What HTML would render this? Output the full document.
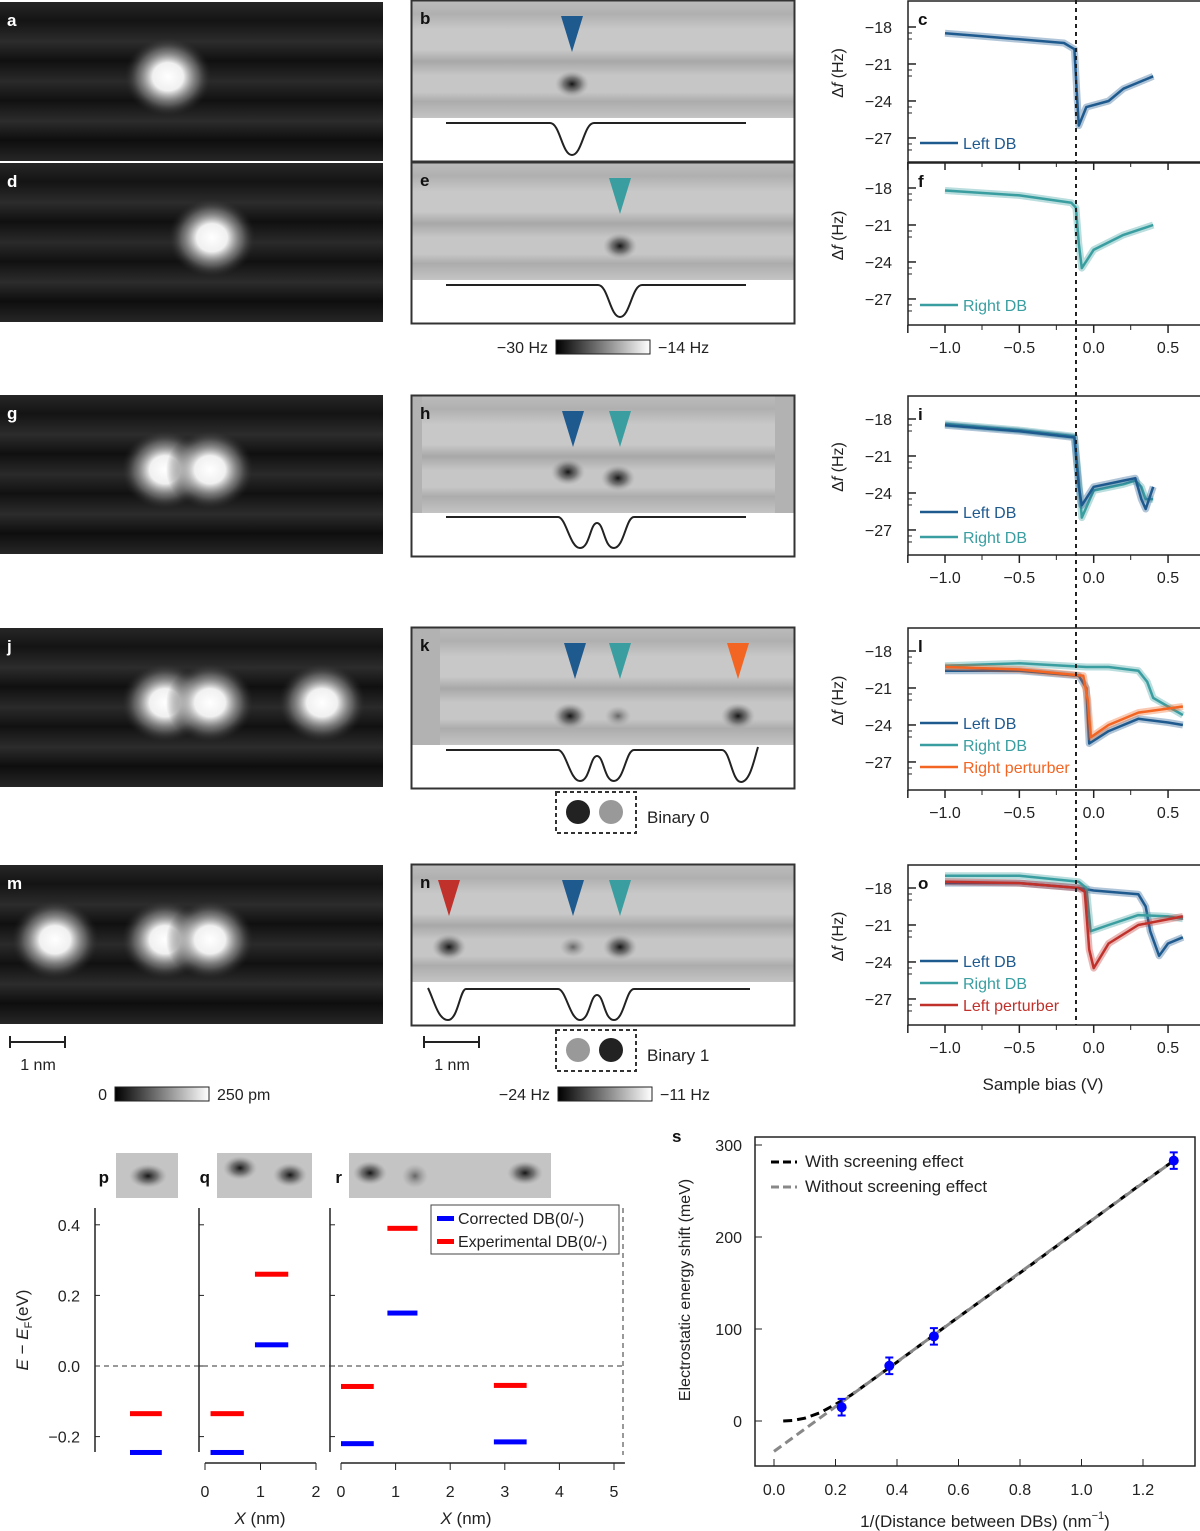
<!DOCTYPE html>
<html><head><meta charset="utf-8"><style>
body{margin:0;background:#fff}
svg{display:block;font-family:"Liberation Sans",sans-serif}
text{fill:#222}
</style></head><body>
<svg id="fig" width="1200" height="1531" viewBox="0 0 1200 1531">
<defs>
<radialGradient id="blob"><stop offset="0" stop-color="#fff"/><stop offset="0.35" stop-color="#f0f0f0"/><stop offset="0.7" stop-color="#888" stop-opacity="0.6"/><stop offset="1" stop-color="#222" stop-opacity="0"/></radialGradient>
<radialGradient id="spot"><stop offset="0" stop-color="#151515"/><stop offset="0.5" stop-color="#555" stop-opacity="0.7"/><stop offset="1" stop-color="#999" stop-opacity="0"/></radialGradient>
<radialGradient id="spotf"><stop offset="0" stop-color="#666"/><stop offset="1" stop-color="#999" stop-opacity="0"/></radialGradient>
<linearGradient id="stripeDark" x1="0" y1="0" x2="0" y2="1">
<stop offset="0" stop-color="#262626"/><stop offset="0.12" stop-color="#141414"/><stop offset="0.25" stop-color="#2c2c2c"/><stop offset="0.37" stop-color="#101010"/><stop offset="0.5" stop-color="#2a2a2a"/><stop offset="0.62" stop-color="#111"/><stop offset="0.75" stop-color="#2c2c2c"/><stop offset="0.87" stop-color="#0e0e0e"/><stop offset="1" stop-color="#262626"/></linearGradient>
<linearGradient id="stripeGray" x1="0" y1="0" x2="0" y2="1">
<stop offset="0" stop-color="#bcbcbc"/><stop offset="0.12" stop-color="#b0b0b0"/><stop offset="0.25" stop-color="#c8c8c8"/><stop offset="0.42" stop-color="#c8c8c8"/><stop offset="0.52" stop-color="#a8a8a8"/><stop offset="0.64" stop-color="#c6c6c6"/><stop offset="0.78" stop-color="#c6c6c6"/><stop offset="0.86" stop-color="#acacac"/><stop offset="1" stop-color="#c4c4c4"/></linearGradient>
<linearGradient id="cbar" x1="0" x2="1"><stop offset="0" stop-color="#000"/><stop offset="1" stop-color="#fff"/></linearGradient>
</defs>
<g id="root"></g>
</svg>
<script>
// ---------- spectra data (bias V, Δf Hz) ----------
const cLeftX=[-1,-0.8,-0.5,-0.2,-0.13,-0.11,-0.1,-0.05,0.1,0.2,0.3,0.4];
const cLeftY=[-18.5,-18.7,-19,-19.3,-19.8,-24,-26,-24.5,-24,-23,-22.5,-22];
const fRightX=[-1,-0.5,-0.15,-0.12,-0.1,-0.08,0,0.2,0.4];
const fRightY=[-18.2,-18.6,-19.2,-19.6,-22.5,-24.5,-23,-21.8,-21];
const iLeftX=[-1,-0.5,-0.13,-0.1,-0.08,0,0.2,0.28,0.32,0.35,0.4];
const iLeftY=[-18.5,-19,-19.5,-23.5,-25,-23.5,-23,-22.8,-24.5,-25.3,-23.5];
const iRightX=[-1,-0.5,-0.13,-0.1,-0.08,0,0.2,0.28,0.32,0.35,0.4];
const iRightY=[-18.4,-18.9,-19.4,-23,-26,-23.8,-23.3,-23,-23.5,-24.5,-24.5];
const lLeftX=[-1,-0.5,-0.1,-0.05,-0.03,0.1,0.3,0.5,0.6];
const lLeftY=[-19.6,-19.6,-20,-21,-25.5,-24.5,-23.5,-23.8,-24];
const lRightX=[-1,-0.5,-0.05,0.1,0.3,0.36,0.4,0.5,0.6];
const lRightY=[-19.2,-19,-19.3,-19.3,-19.6,-20.5,-21.8,-22.5,-23.2];
const lPertX=[-1,-0.5,-0.07,-0.04,-0.02,0.1,0.3,0.6];
const lPertY=[-19.3,-19.5,-20,-22,-25,-24,-23,-22.5];
const oLeftX=[-1,-0.5,-0.1,0,0.3,0.35,0.38,0.44,0.5,0.6];
const oLeftY=[-17.6,-17.6,-18,-18.2,-18.5,-19.5,-21.5,-23.5,-22.5,-22];
const oRightX=[-1,-0.5,-0.1,-0.05,-0.02,0.1,0.3,0.5,0.6];
const oRightY=[-17,-17,-17.5,-18,-21.5,-21,-20.2,-20.3,-20.5];
const oPertX=[-1,-0.5,-0.1,-0.06,-0.03,0,0.1,0.3,0.6];
const oPertY=[-17.5,-17.6,-18,-18.3,-23,-24.5,-22.5,-21,-20.3];
const biasTicks=[-1.0,-0.5,0.0,0.5];
const dfTicks=[-18,-21,-24,-27];
// ---------- energy level data ----------
const pLevels=[{x0:0,x1:0.6,e:-0.135,c:'red'},{x0:0,x1:0.6,e:-0.245,c:'blue'}];
const qLevels=[{x0:0.1,x1:0.7,e:-0.135,c:'red'},{x0:0.1,x1:0.7,e:-0.245,c:'blue'},{x0:0.9,x1:1.5,e:0.26,c:'red'},{x0:0.9,x1:1.5,e:0.06,c:'blue'}];
const rLevels=[{x0:0,x1:0.6,e:-0.058,c:'red'},{x0:0,x1:0.6,e:-0.22,c:'blue'},{x0:0.85,x1:1.4,e:0.39,c:'red'},{x0:0.85,x1:1.4,e:0.15,c:'blue'},{x0:2.8,x1:3.4,e:-0.055,c:'red'},{x0:2.8,x1:3.4,e:-0.215,c:'blue'}];
const eTicks=[0.4,0.2,0.0,-0.2];
// ---------- panel s data ----------
const sX=[0.22,0.375,0.52,1.3];
const sY=[15,60,92,283];
const sErr=[9,9,9,9];
const withX=[0.03,0.06,0.1,0.15,0.2,0.25,0.3,0.4,0.6,0.8,1.0,1.2,1.3];
const withY=[0,0.5,3,9,18,28,40,64,113,161,210,259,283];
const withoutX=[0,1.3];
const withoutY=[-33,283];
const sXTicks=[0.0,0.2,0.4,0.6,0.8,1.0,1.2];
const sYTicks=[0,100,200,300];

const NS='http://www.w3.org/2000/svg';
const root=document.getElementById('root');
function el(tag,attrs,parent,txt){const e=document.createElementNS(NS,tag);for(const k in attrs)e.setAttribute(k,attrs[k]);if(txt!==undefined)e.textContent=txt;(parent||root).appendChild(e);return e;}
function T(x,y,s,opt,parent){opt=opt||{};const t=el('text',{x:x,y:y,'font-size':opt.fs||16,'text-anchor':opt.a||'start','font-weight':opt.fw||'normal'},parent,s);if(opt.fill)t.setAttribute('style','fill:'+opt.fill);if(opt.rot)t.setAttribute('transform','rotate(-90 '+x+' '+y+')');return t;}

// ---------- left STM images ----------
const leftImgs=[{l:'a',y:2,h:159,b:[168]},{l:'d',y:163,h:159,b:[212]},{l:'g',y:395,h:159,b:[165,210]},{l:'j',y:628,h:159,b:[165,210,322]},{l:'m',y:865,h:159,b:[55,165,210]}];
leftImgs.forEach(p=>{
 const g=el('g',{});
 
 
 el('rect',{x:0,y:p.y,width:383,height:p.h,fill:'url(#stripeDark)'},g);
 p.b.forEach(bx=>el('ellipse',{cx:bx,cy:p.y+p.h*0.47,rx:44,ry:40,fill:'url(#blob)'},g));
 T(7,p.y+24,p.l,{fs:17,fw:'bold',fill:'#fff'},g);
});
// ---------- middle AFM images ----------
const midImgs=[{l:'b',y:0,gl:411,gr:795,tri:[[572,'#1f5a8f']],sp:[[572,84,1]],curve:'M446 123 L550 123 C560 123 562 155 572 155 C582 155 584 123 594 123 L746 123'},
{l:'e',y:162,gl:411,gr:795,tri:[[620,'#3a9ea0']],sp:[[620,246,1]],curve:'M446 285 L598 285 C608 285 610 317 620 317 C630 317 632 285 642 285 L746 285'},
{l:'h',y:395,gl:422,gr:775,tri:[[573,'#1f5a8f'],[620,'#3a9ea0']],sp:[[568,472,1],[618,478,1]],curve:'M446 517 L558 517 C566 517 570 548 580 548 C590 548 590 523 597 523 C604 523 604 548 614 548 C624 548 626 517 634 517 L746 517'},
{l:'k',y:627,gl:440,gr:795,tri:[[575,'#1f5a8f'],[620,'#3a9ea0'],[738,'#f26522']],sp:[[570,716,1],[618,716,0],[738,716,1]],curve:'M446 750 L558 750 C566 750 570 781 580 781 C590 781 590 756 597 756 C604 756 604 781 614 781 C624 781 626 750 634 750 L722 750 C730 750 732 782 741 782 C750 782 754 760 758 747'},
{l:'n',y:864,gl:411,gr:795,tri:[[449,'#c0312b'],[573,'#1f5a8f'],[620,'#3a9ea0']],sp:[[449,947,1],[573,947,0],[620,947,1]],curve:'M428 988 C434 1000 438 1020 448 1020 C458 1020 460 989 466 989 L558 989 C566 989 570 1020 580 1020 C590 1020 590 995 597 995 C604 995 604 1020 614 1020 C624 1020 626 989 634 989 L750 989'}];
midImgs.forEach(p=>{
 const g=el('g',{});
 
 
 el('rect',{x:411,y:p.y,width:384,height:118,fill:'#b2b2b2'},g);
 el('rect',{x:p.gl,y:p.y,width:p.gr-p.gl,height:118,fill:'url(#stripeGray)'},g);
 p.sp.forEach(s=>el('ellipse',{cx:s[0],cy:s[1],rx:s[2]?17:13,ry:s[2]?13:10,fill:s[2]?'url(#spot)':'url(#spotf)'},g));
 p.tri.forEach(t=>el('polygon',{points:(t[0]-11)+','+(p.y+16)+' '+(t[0]+11)+','+(p.y+16)+' '+t[0]+','+(p.y+52),fill:t[1]},g));
 el('path',{d:p.curve,fill:'none',stroke:'#222','stroke-width':2},g);
 el('rect',{x:411.5,y:p.y+0.5,width:383,height:161,fill:'none',stroke:'#333','stroke-width':2},g);
 T(420,p.y+24,p.l,{fs:17,fw:'bold',fill:'#111'},g);
});
function cbar(name,x,y,l,r){const g=el('g',{});
 el('rect',{x:x,y:y,width:94,height:14,fill:'url(#cbar)',stroke:'#222','stroke-width':1},g);
 T(x-8,y+13,l,{a:'end'},g);T(x+102,y+13,r,{},g);}
cbar('colorbar-hz-top',556,340,'−30 Hz','−14 Hz');
cbar('colorbar-height',115,1087,'0','250 pm');
cbar('colorbar-hz-bottom',558,1087,'−24 Hz','−11 Hz');
[[10,'scale-bar-left'],[424,'scale-bar-middle']].forEach(s=>{const g=el('g',{});
 el('path',{d:'M'+s[0]+' 1042 h55 M'+s[0]+' 1036 v12 M'+(s[0]+55)+' 1036 v12',stroke:'#222','stroke-width':2},g);T(s[0]+28,1070,'1 nm',{a:'middle'},g);});
[[792,'#222','#999','Binary 0'],[1030,'#999','#222','Binary 1']].forEach(b=>{const g=el('g',{});
 el('rect',{x:556,y:b[0],width:80,height:41,fill:'none',stroke:'#333','stroke-width':2,'stroke-dasharray':'4,3'},g);
 el('circle',{cx:578,cy:b[0]+20,r:12,fill:b[1]},g);el('circle',{cx:611,cy:b[0]+20,r:12,fill:b[2]},g);
 T(647,b[0]+31,b[3],{fs:17},g);});

// ---------- spectra panels ----------
const sx=v=>1093.7+v*148.7;
const panels=[
 {l:'c',top:0,bot:162,y18:27,lab:false,series:[[cLeftX,cLeftY,'#1f5a8f']],leg:[[149,'#1f5a8f','Left DB']]},
 {l:'f',top:162,bot:325,y18:188,lab:true,series:[[fRightX,fRightY,'#3a9ea0']],leg:[[311,'#3a9ea0','Right DB']]},
 {l:'i',top:395,bot:555,y18:419,lab:true,series:[[iRightX,iRightY,'#3a9ea0'],[iLeftX,iLeftY,'#1f5a8f']],leg:[[518,'#1f5a8f','Left DB'],[543,'#3a9ea0','Right DB']]},
 {l:'l',top:627,bot:790,y18:651,lab:true,series:[[lLeftX,lLeftY,'#1f5a8f'],[lRightX,lRightY,'#3a9ea0'],[lPertX,lPertY,'#f26522']],leg:[[729,'#1f5a8f','Left DB'],[751,'#3a9ea0','Right DB'],[773,'#f26522','Right perturber']]},
 {l:'o',top:864,bot:1025,y18:888,lab:true,series:[[oLeftX,oLeftY,'#1f5a8f'],[oRightX,oRightY,'#3a9ea0'],[oPertX,oPertY,'#c0312b']],leg:[[967,'#1f5a8f','Left DB'],[989,'#3a9ea0','Right DB'],[1011,'#c0312b','Left perturber']]}
];
panels.forEach(p=>{
 const g=el('g',{});
 
 
 const sy=v=>p.y18+(-18-v)*12.33;
 el('rect',{x:908,y:p.top+1,width:300,height:p.bot-p.top-1,fill:'none',stroke:'#222','stroke-width':1.5},g);
 p.series.forEach(s=>{let d='';s[0].forEach((x,i)=>d+=(i?'L':'M')+sx(x).toFixed(1)+' '+sy(s[1][i]).toFixed(1));
  el('path',{d:d,fill:'none',stroke:s[2],'stroke-width':7,'stroke-opacity':0.35,'stroke-linejoin':'round'},g);
  const pa=el('path',{d:d,fill:'none',stroke:s[2],'stroke-width':2.5,'stroke-linejoin':'round'},g);
  });
 dfTicks.forEach(t=>{const y=sy(t);el('line',{x1:908,x2:916,y1:y,y2:y,stroke:'#222','stroke-width':1.5},g);
  el('line',{x1:908,x2:912,y1:y+6,y2:y+6,stroke:'#222'},g);el('line',{x1:908,x2:912,y1:y+12,y2:y+12,stroke:'#222'},g);
  T(892,y+6,'−'+(-t),{a:'end'},g);});
 biasTicks.forEach(t=>{const x=sx(t);el('line',{x1:x,x2:x,y1:p.bot,y2:p.bot+8,stroke:'#222','stroke-width':1.5},g);
  el('line',{x1:x+37,x2:x+37,y1:p.bot,y2:p.bot+5,stroke:'#222'},g);
  if(p.lab)T(x,p.bot+28,(t<0?'−':'')+Math.abs(t).toFixed(1),{a:'middle'},g);});
 el('line',{x1:sx(-1.25),x2:sx(-1.25),y1:p.bot,y2:p.bot+8,stroke:'#222','stroke-width':1.5},g);
 p.leg.forEach(l=>{el('line',{x1:920,x2:958,y1:l[0]-6,y2:l[0]-6,stroke:l[1],'stroke-width':2.5},g);T(963,l[0],l[2],{fill:l[1],fs:16},g);});
 T(918,p.top+25,p.l,{fs:17,fw:'bold',fill:'#111'},g);
 const yl=el('text',{x:843,y:(p.top+p.bot)/2-8,'font-size':16,'text-anchor':'middle',transform:'rotate(-90 843 '+((p.top+p.bot)/2-8)+')'},g);
 yl.innerHTML='Δ<tspan font-style="italic">f</tspan> (Hz)';
});
const dl=el('line',{x1:1076,x2:1076,y1:0,y2:1025,stroke:'#222','stroke-width':2,'stroke-dasharray':'4,4'});

T(1043,1090,'Sample bias (V)',{a:'middle',fs:17});

// ---------- p/q/r energy levels ----------
const ey=v=>1366-v*353;
const eg=el('g',{});


[[116,62,'p',[[148,1176,16]]],[217,95,'q',[[240,1168,14],[290,1175,14]]],[349,202,'r',[[370,1173,14],[415,1176,10],[525,1173,15]]]].forEach(im=>{
 el('rect',{x:im[0],y:1153,width:im[1],height:45,fill:'#c4c4c4'},eg);
 im[3].forEach(s=>el('ellipse',{cx:s[0],cy:s[1],rx:s[2]+3,ry:12,fill:s[2]>12?'url(#spot)':'url(#spotf)'},eg));
 T(im[0]-7,1183,im[2],{a:'end',fs:17,fw:'bold',fill:'#111'},eg);});
[95,199,330].forEach(x=>{el('line',{x1:x,x2:x,y1:1208,y2:1452,stroke:'#222','stroke-width':1.5},eg);
 eTicks.forEach(t=>el('line',{x1:x,x2:x+5,y1:ey(t),y2:ey(t),stroke:'#222'},eg));});
eTicks.forEach(t=>T(80,ey(t)+6,(t<0?'−':'')+Math.abs(t).toFixed(1),{a:'end'},eg));
el('line',{x1:95,x2:623,y1:ey(0),y2:ey(0),stroke:'#333','stroke-dasharray':'5,4'},eg);
el('line',{x1:623,x2:623,y1:1208,y2:1455,stroke:'#333','stroke-dasharray':'5,4'},eg);
const eyl=el('text',{x:28,y:1330,'font-size':17,'text-anchor':'middle',transform:'rotate(-90 28 1330)'},eg);
eyl.innerHTML='<tspan font-style="italic">E</tspan> − <tspan font-style="italic">E</tspan><tspan font-size="11" dy="4">F</tspan><tspan dy="-4">(eV)</tspan>';
const qx=v=>205+v*55.5, rx=v=>341+v*54.6, px=v=>130+v*53;
function levels(arr,fx,name){arr.forEach(L=>{const r=el('rect',{x:fx(L.x0),y:ey(L.e)-2.5,width:fx(L.x1)-fx(L.x0),height:5,fill:L.c==='red'?'#f00':'#00f'},eg);
 });}
levels(pLevels,px,'p');levels(qLevels,qx,'q');levels(rLevels,rx,'r');
el('line',{x1:qx(0),x2:qx(2),y1:1463,y2:1463,stroke:'#222','stroke-width':1.5},eg);
[0,1,2].forEach(t=>{el('line',{x1:qx(t),x2:qx(t),y1:1463,y2:1470,stroke:'#222'},eg);T(qx(t),1497,String(t),{a:'middle'},eg);});
el('line',{x1:rx(0),x2:rx(5.2),y1:1463,y2:1463,stroke:'#222','stroke-width':1.5},eg);
[0,1,2,3,4,5].forEach(t=>{el('line',{x1:rx(t),x2:rx(t),y1:1463,y2:1470,stroke:'#222'},eg);T(rx(t),1497,String(t),{a:'middle'},eg);});
[[260,'q-x-title'],[466,'r-x-title']].forEach(a=>{const t=el('text',{x:a[0],y:1524,'font-size':17,'text-anchor':'middle'},eg);t.innerHTML='<tspan font-style="italic">X</tspan> (nm)';});
el('rect',{x:431,y:1205,width:188,height:49,fill:'#fff',stroke:'#444'},eg);
el('rect',{x:437,y:1216,width:17,height:5,fill:'#00f'},eg);T(458,1224,'Corrected DB(0/-)',{},eg);
el('rect',{x:437,y:1239,width:17,height:5,fill:'#f00'},eg);T(458,1247,'Experimental DB(0/-)',{},eg);

// ---------- panel s ----------
const S=el('g',{});


const ssx=v=>774+v*307.5, ssy=v=>1421-v*0.92;
el('rect',{x:755,y:1137,width:440,height:329,fill:'none',stroke:'#222','stroke-width':1.5},S);
sXTicks.forEach(t=>{el('line',{x1:ssx(t),x2:ssx(t),y1:1466,y2:1459,stroke:'#222'},S);T(ssx(t),1495,t.toFixed(1),{a:'middle'},S);});
sYTicks.forEach(t=>{el('line',{x1:755,x2:762,y1:ssy(t),y2:ssy(t),stroke:'#222'},S);T(742,ssy(t)+6,String(t),{a:'end'},S);});
function poly(xs,ys){let d='';xs.forEach((x,i)=>d+=(i?'L':'M')+ssx(x).toFixed(1)+' '+ssy(ys[i]).toFixed(1));return d;}
const wi=el('path',{d:poly(withX,withY),fill:'none',stroke:'#000','stroke-width':3,'stroke-dasharray':'9,5'},S);

const wo=el('path',{d:poly(withoutX,withoutY),fill:'none',stroke:'#888','stroke-width':3,'stroke-dasharray':'9,5'},S);

sX.forEach((x,i)=>{const cx=ssx(x),cy=ssy(sY[i]);
 el('path',{d:'M'+cx+' '+ssy(sY[i]-sErr[i])+'V'+ssy(sY[i]+sErr[i])+'M'+(cx-4)+' '+ssy(sY[i]-sErr[i])+'h8M'+(cx-4)+' '+ssy(sY[i]+sErr[i])+'h8',stroke:'#00f','stroke-width':2},S);
 const c=el('circle',{cx:cx,cy:cy,r:5,fill:'#00f'},S);
 });
el('line',{x1:771,x2:797,y1:1162,y2:1162,stroke:'#000','stroke-width':3,'stroke-dasharray':'8,4'},S);T(805,1167,'With screening effect',{fs:17},S);
el('line',{x1:771,x2:797,y1:1187,y2:1187,stroke:'#888','stroke-width':3,'stroke-dasharray':'8,4'},S);T(805,1192,'Without screening effect',{fs:17},S);
T(672,1142,'s',{fs:17,fw:'bold',fill:'#111'},S);
T(690,1290,'Electrostatic energy shift (meV)',{rot:true,a:'middle'},S);
const sxl=el('text',{x:985,y:1527,'font-size':17,'text-anchor':'middle'},S);
sxl.innerHTML='1/(Distance between DBs) (nm<tspan font-size="11" dy="-8">−1</tspan><tspan dy="8">)</tspan>';
</script>
</body></html>
